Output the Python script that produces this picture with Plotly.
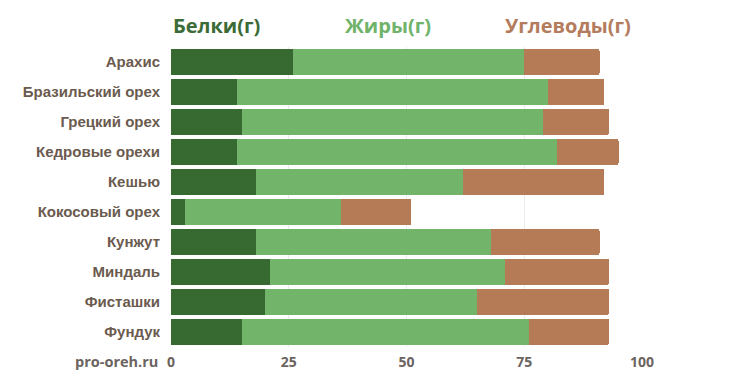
import plotly.graph_objects as go

nuts = ["Арахис", "Бразильский орех", "Грецкий орех", "Кедровые орехи", "Кешью",
        "Кокосовый орех", "Кунжут", "Миндаль", "Фисташки", "Фундук"]
protein = [26, 14, 15, 14, 18, 3, 18, 21, 20, 15]
fat = [49, 66, 64, 68, 44, 33, 50, 50, 45, 61]
carbs = [16, 12, 14, 13, 30, 15, 23, 22, 28, 17]
series_names = ["Белки(г)", "Жиры(г)", "Углеводы(г)"]
x_ticks = [0, 25, 50, 75, 100]

colors = ["#366a30", "#72b46a", "#b57b57"]
text_colors = ["#3b6b36", "#70b36a", "#b47c5d"]

# page body has an 8px margin; work in window pixels and convert
OFF = 8
W, H = 729 - OFF, 389 - OFF
L, R, T, B = 171 - OFF, 643.5 - OFF, 47 - OFF, 347 - OFF
PW, PH = R - L, B - T

def px(x):
    return (x - OFF - L) / PW

def py(y):
    return (B - (y - OFF)) / PH

fig = go.Figure()
for name, vals, col in zip(series_names, [protein, fat, carbs], colors):
    fig.add_trace(go.Bar(y=nuts, x=vals, name=name, orientation="h",
                         marker=dict(color=col, line=dict(width=0))))

fig.update_layout(
    barmode="stack",
    bargap=0.135,
    barcornerradius=2,
    width=W, height=H,
    margin=dict(l=L, r=W - R, t=T, b=H - B, autoexpand=False),
    paper_bgcolor="white", plot_bgcolor="white",
    showlegend=False,
    font=dict(family="Liberation Sans", color="#6b5e55"),
)
fig.update_xaxes(range=[0, 100.2], tickvals=x_ticks, showgrid=True, gridcolor="#ebebeb",
                 gridwidth=1, zeroline=False, showline=False, automargin=False,
                 ticklabelstandoff=5,
                 tickfont=dict(family="Open Sans", size=14, color="#6b6360", weight="bold"))
fig.update_yaxes(autorange="reversed", showgrid=False, ticklabelstandoff=10, automargin=False,
                 tickfont=dict(family="Liberation Sans", size=15, color="#6b5a4e", weight="bold"))

legend_x = [216.5, 388.5, 568.5]
for name, cx, tc in zip(series_names, legend_x, text_colors):
    fig.add_annotation(x=px(cx), y=py(26), xref="paper", yref="paper",
                       text=name, showarrow=False, xanchor="center", yanchor="middle",
                       font=dict(family="Open Sans", size=20, color=tc, weight="bold"))

fig.add_annotation(x=px(160), y=py(361), xref="paper", yref="paper", text="pro-oreh.ru",
                   showarrow=False, xanchor="right", yanchor="middle",
                   font=dict(family="Open Sans", size=14.5, color="#6b6360", weight="bold"))

fig.write_html("out.html")
